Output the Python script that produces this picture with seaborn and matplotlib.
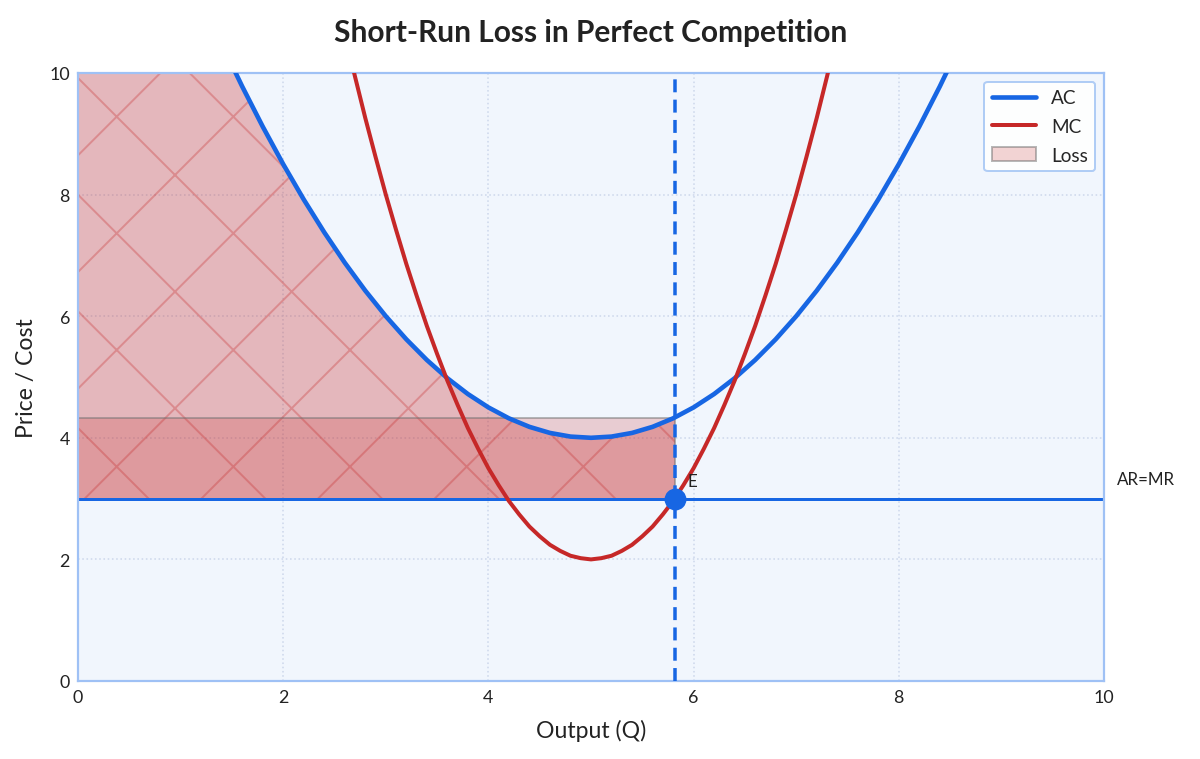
import numpy as np
import matplotlib
matplotlib.use("Agg")
import matplotlib.pyplot as plt
import seaborn as sns

# --- data ---
# average cost, read every 0.1 where it is on the chart (plus both ends, off the top)
ac_q = [0.0] + [round(v, 1) for v in np.arange(1.4, 8.61, 0.1)] + [10.0]
ac_values = [16.5,
             10.48, 10.13, 9.78, 9.45, 9.12, 8.81, 8.5, 8.21, 7.92, 7.65,
             7.38, 7.13, 6.88, 6.65, 6.42, 6.21, 6.0, 5.81, 5.62, 5.45,
             5.28, 5.13, 4.98, 4.85, 4.72, 4.61, 4.5, 4.41, 4.32, 4.25,
             4.18, 4.13, 4.08, 4.05, 4.02, 4.01,
             4.0,
             4.01, 4.02, 4.05, 4.08, 4.13, 4.18,
             4.25, 4.32, 4.41, 4.5, 4.61, 4.72, 4.85, 4.98, 5.13, 5.28,
             5.45, 5.62, 5.81, 6.0, 6.21, 6.42, 6.65, 6.88, 7.13, 7.38,
             7.65, 7.92, 8.21, 8.5, 8.81, 9.12, 9.45, 9.78, 10.13, 10.48,
             16.5]

# marginal cost, read every 0.1
mc_q = [round(v, 1) for v in np.arange(2.6, 7.41, 0.1)]
mc_values = [10.64, 9.94, 9.26, 8.62, 8.0, 7.42, 6.86, 6.34, 5.84, 5.38,
             4.94, 4.54, 4.16, 3.82, 3.5, 3.22, 2.96, 2.74, 2.54, 2.38,
             2.24, 2.14, 2.06, 2.02,
             2.0,
             2.02, 2.06, 2.14, 2.24,
             2.38, 2.54, 2.74, 2.96, 3.22, 3.5, 3.82, 4.16, 4.54, 4.94,
             5.38, 5.84, 6.34, 6.86, 7.42, 8.0, 8.62, 9.26, 9.94, 10.64]

price = 3.0       # AR = MR
q_eq = 5.82       # MC = MR
ac_eq = 4.33      # AC at q_eq

ticks = [0, 2, 4, 6, 8, 10]

# --- style ---
DPI = 350


def pt(px):
    # pixel size -> points at this dpi
    return px * 72 / DPI


blue = "#1766e3"
red = "#c62828"
text_col = "#222222"

sns.set_theme(style="white")
plt.rcParams["font.family"] = ["Lato", "DejaVu Sans"]
plt.rcParams["hatch.linewidth"] = pt(2)

fig, ax = plt.subplots(figsize=(1200 / DPI, 760 / DPI), dpi=DPI)
fig.subplots_adjust(left=78 / 1200, right=1104 / 1200, top=1 - 74 / 760, bottom=1 - 682 / 760)
fig.patch.set_facecolor("white")
ax.set_facecolor("#f1f6fd")

# loss region between price and AC (hatched)
ac_arr = np.array(ac_values)
q_arr = np.array(ac_q)
mask = q_arr <= q_eq
fill_q = list(q_arr[mask]) + [q_eq]
fill_ac = list(ac_arr[mask]) + [ac_eq]
ax.fill_between(fill_q, price, fill_ac, facecolor=(0.776, 0.157, 0.157, 0.3),
                edgecolor=(0.776, 0.157, 0.157, 0.3), hatch="x", linewidth=0, zorder=1)

# loss rectangle
ax.fill_between([0, q_eq], price, ac_eq, facecolor=(0.776, 0.157, 0.157, 0.2),
                edgecolor=(0.45, 0.45, 0.45, 0.5), linewidth=pt(2), label="Loss", zorder=1.5)

ax.axhline(price, color=blue, lw=pt(3), zorder=2)

sns.lineplot(x=ac_q, y=ac_values, color=blue, lw=pt(4.6), label="AC", ax=ax, zorder=3)
sns.lineplot(x=mc_q, y=mc_values, color=red, lw=pt(4.0), label="MC", ax=ax, zorder=3)

ax.axvline(q_eq, color=blue, lw=pt(3.5), ls=(0, (3.7, 2.1)), zorder=3.5)
ax.plot([q_eq], [price], marker="o", ms=pt(17), color=blue, zorder=5, lw=0)

ax.text(q_eq + 0.12, 3.21, "E", fontsize=pt(17), color=text_col, va="baseline", zorder=6)
ax.text(10.13, 3.24, "AR=MR", fontsize=pt(17), color=text_col, va="baseline", clip_on=False)

ax.set_xlim(0, 10)
ax.set_ylim(0, 10)
ax.set_xticks(ticks)
ax.set_yticks(ticks)
ax.tick_params(length=0, labelsize=pt(18), colors=text_col, pad=pt(8))
ax.grid(True, color="#cfd9ec", ls=":", lw=pt(1.6))
ax.set_axisbelow(True)

for s in ax.spines.values():
    s.set_color("#9fc1f5")
    s.set_linewidth(pt(2.2))

ax.set_xlabel("Output (Q)", fontsize=pt(23), color=text_col, labelpad=pt(14))
ax.set_ylabel("Price / Cost", fontsize=pt(23), color=text_col, labelpad=pt(12))
ax.set_title("Short-Run Loss in Perfect Competition", fontsize=pt(30), fontweight="bold",
             color=text_col, pad=pt(32))

h, l = ax.get_legend_handles_labels()
order = [l.index("AC"), l.index("MC"), l.index("Loss")]
leg = ax.legend([h[i] for i in order], [l[i] for i in order], loc="upper right",
                fontsize=pt(19), frameon=True, fancybox=True, framealpha=0.9,
                handlelength=2.3, borderaxespad=0.45, labelspacing=0.62)
leg.get_frame().set_edgecolor("#a8c8f5")
leg.get_frame().set_linewidth(pt(2))
leg.get_frame().set_facecolor("white")

fig.savefig("out.png", dpi=DPI)
